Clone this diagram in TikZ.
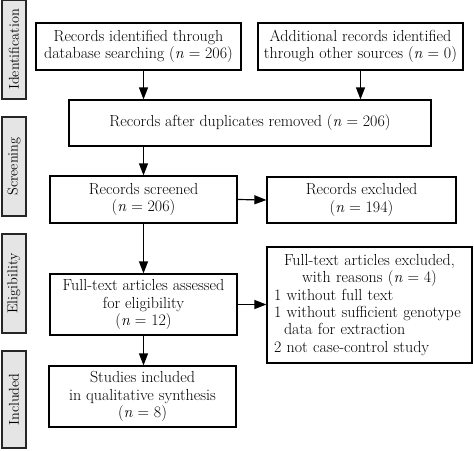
\documentclass[tikz,border=0pt]{standalone}
\usepackage{fontspec}
\usetikzlibrary{arrows.meta}
\newcommand{\nn}[1]{(\textit{n}\hspace{0.3em}=\hspace{0.3em}#1)}
\begin{document}
\begin{tikzpicture}[x=1pt,y=-1pt,
  box/.style={draw=black,line width=1.2pt,fill=white,inner sep=2pt,align=center,
    font=\fontsize{16}{17.3}\selectfont},
  side/.style={draw=black!85,line width=1.2pt,fill=black!10,inner sep=0pt,
    minimum width=24pt,rotate=90,font=\fontsize{14.3}{17}\selectfont},
  arr/.style={line width=1.2pt,-{Triangle[length=12pt,width=9pt]}}]
\useasboundingbox (0,0) rectangle (474,450);
% side labels
\node[side,minimum width=99pt,minimum height=24pt] (s1) at (14,49.5) {Identification};
\node[side,minimum width=99pt,minimum height=24pt] (s2) at (14,166.5) {Screening};
\node[side,minimum width=99pt,minimum height=24pt] (s3) at (14,283.5) {Eligibility};
\node[side,minimum width=97pt,minimum height=24pt] (s4) at (14,399.5) {Included};
% boxes
\node[box,minimum width=205pt,minimum height=47pt] (A) at (138.5,46.5)
  {Records identified through\\database searching \nn{206}};
\node[box,minimum width=205pt,minimum height=47pt] (B) at (360.5,46.5)
  {Additional records identified\\through other sources \nn{0}};
\node[box,minimum width=362pt,minimum height=46pt] (C) at (250,123)
  {Records after duplicates removed \nn{206}};
\node[box,minimum width=187pt,minimum height=47pt] (D) at (143.5,199.5)
  {Records screened\\\nn{206}};
\node[box,minimum width=189pt,minimum height=46pt] (E) at (361.5,200)
  {Records excluded\\\nn{194}};
\node[box,minimum width=187pt,minimum height=61pt] (F) at (143.5,304.5)
  {Full-text articles assessed\\for eligibility\\\nn{12}};
\node[box,minimum width=205pt,minimum height=116pt,inner xsep=7pt,text width=191pt,align=left] (G) at (369.5,305)
  {\centering Full-text articles excluded,\\ with reasons \nn{4}\par
   \raggedright 1 without full text\\ 1 without sufficient genotype\\ \hspace*{10pt}data for extraction\\ 2 not case-control study\par};
\node[box,minimum width=187pt,minimum height=61pt] (H) at (142.5,396.5)
  {Studies included\\in qualitative synthesis\\\nn{8}};
% arrows
\draw[arr] (D.north |- A.south) -- (D.north |- C.north);
\draw[arr] (B.south) -- (B.south |- C.north);
\draw[arr] (D.north |- C.south) -- (D.north);
\draw[arr] (D.east) -- (E.west);
\draw[arr] (D.south) -- (F.north);
\draw[arr] (F.east) -- (F.east -| G.west);
\draw[arr] (F.south) -- (F.south |- H.north);
\end{tikzpicture}
\end{document}
